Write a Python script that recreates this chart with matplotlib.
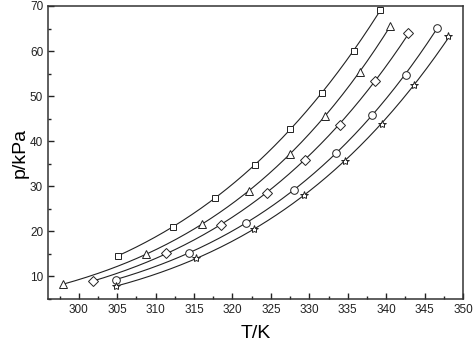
import numpy as np
import matplotlib
matplotlib.use("Agg")
import matplotlib.pyplot as plt
from matplotlib.ticker import MultipleLocator

plt.rcParams['font.family'] = ['Liberation Sans', 'DejaVu Sans']

T_square = [305.1, 312.2, 317.7, 322.9, 327.5, 331.7, 335.8, 339.2]
p_square = [14.6, 20.9, 27.4, 34.8, 42.7, 50.8, 60.0, 69.1]

T_triangle = [298.0, 308.7, 316.0, 322.1, 327.5, 332.0, 336.6, 340.5]
p_triangle = [8.3, 14.9, 21.6, 28.9, 37.2, 45.6, 55.3, 65.6]

T_diamond = [301.8, 311.3, 318.5, 324.5, 329.5, 334.0, 338.5, 342.8]
p_diamond = [8.9, 15.2, 21.5, 28.6, 35.9, 43.7, 53.3, 63.9]

T_circle = [304.8, 314.3, 321.7, 328.0, 333.5, 338.2, 342.6, 346.6]
p_circle = [9.3, 15.2, 21.9, 29.1, 37.4, 45.9, 54.8, 65.2]

T_star = [304.8, 315.3, 322.8, 329.3, 334.7, 339.5, 343.6, 348.1]
p_star = [7.8, 14.1, 20.5, 28.1, 35.6, 43.9, 52.4, 63.3]

series = [
    (T_square, p_square, 's', 5),
    (T_triangle, p_triangle, '^', 5.5),
    (T_diamond, p_diamond, 'D', 5),
    (T_circle, p_circle, 'o', 5.5),
    (T_star, p_star, '*', 6),
]

fig = plt.figure(figsize=(4.74, 3.45), dpi=100)
ax = fig.add_axes([48/474, 1 - 299/345, (463-48)/474, (299-6)/345])

for T, p, m, ms in series:
    T = np.array(T); p = np.array(p)
    coef = np.polyfit(1.0 / T, np.log(p), 2)
    Ts = np.linspace(T.min(), T.max(), 200)
    ax.plot(Ts, np.exp(np.polyval(coef, 1.0 / Ts)), color='#222222', lw=0.8)
    ax.plot(T, p, linestyle='none', marker=m, ms=ms, mfc='white',
            mec='#222222', mew=0.7)

ax.set_xlim(296, 350)
ax.set_ylim(5, 70)
ax.xaxis.set_major_locator(MultipleLocator(5))
ax.xaxis.set_minor_locator(MultipleLocator(2.5))
ax.yaxis.set_major_locator(MultipleLocator(10))
ax.yaxis.set_minor_locator(MultipleLocator(5))
ax.tick_params(which='both', direction='in', top=False, right=False,
               labelsize=8.5, width=1.0, colors='#222222')
ax.tick_params(which='major', length=4)
ax.tick_params(which='minor', length=2.5)
for s in ax.spines.values():
    s.set_linewidth(1.1)
    s.set_color('#333333')

ax.set_xlabel('T/K', fontsize=14, labelpad=6.5)
ax.set_ylabel('p/kPa', fontsize=14, labelpad=1)

fig.savefig('out.png', dpi=100)
